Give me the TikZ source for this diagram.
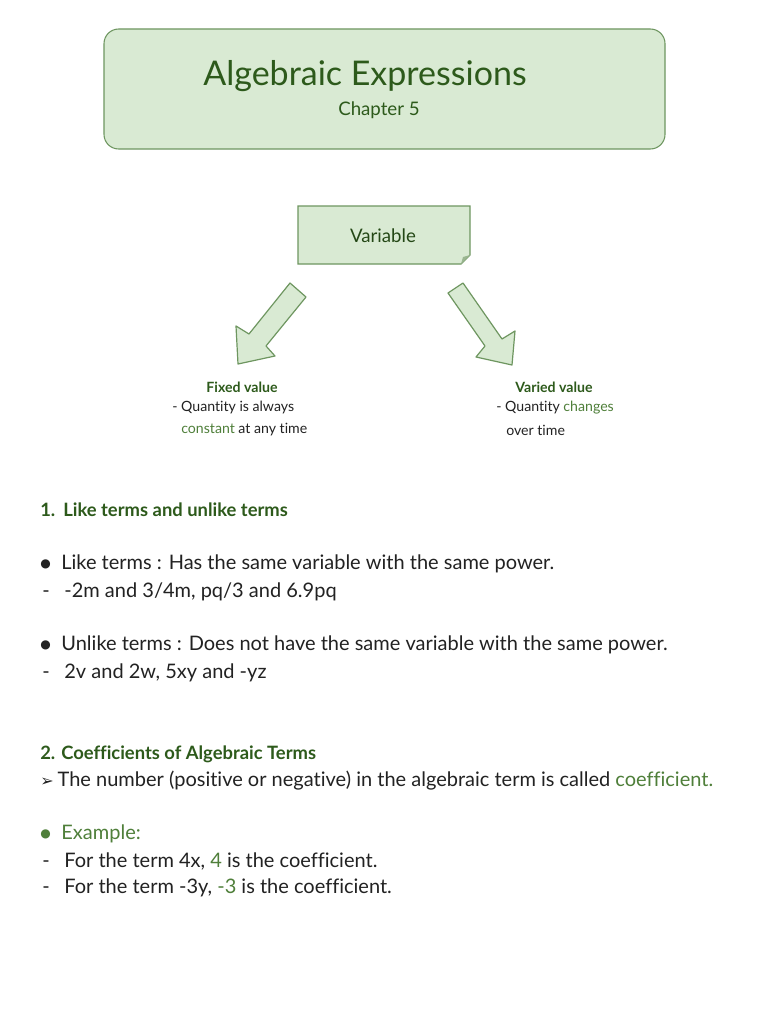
\documentclass[tikz,border=0pt]{standalone}
\usepackage{fontspec}
\setmainfont[Ligatures=CommonOff]{Lato}
\newfontfamily\symf{DejaVu Sans}
\definecolor{boxfill}{HTML}{D9EAD3}
\definecolor{boxline}{HTML}{6E9660}
\definecolor{dkgreen}{HTML}{2D5A1B}
\definecolor{ltgreen}{HTML}{4F7F3A}
\definecolor{txt}{HTML}{222222}
\newcommand{\mybul}{\raisebox{1.5pt}{\symf\fontsize{9}{12}\selectfont ●}}
\tikzset{
  body/.style={anchor=west,inner sep=0pt,text=txt,font=\fontsize{15}{17}\selectfont},
  small/.style={anchor=west,inner sep=0pt,text=txt,font=\fontsize{10.6}{12}\selectfont},
  head/.style={anchor=west,inner sep=0pt,text=dkgreen,font=\fontsize{13.8}{16}\selectfont\bfseries},
  greenbox/.style={fill=boxfill,draw=boxline,line width=0.8pt},
  bigarrow/.style={fill=boxfill,draw=boxline,line width=0.9pt,line join=round}
}
\begin{document}
\begin{tikzpicture}[x=0.75pt,y=-0.75pt]
\useasboundingbox[fill=white] (0,0) rectangle (768,1024);
% title
\draw[greenbox,rounded corners=11pt] (104,29) rectangle (665,149);
\node[inner sep=0pt,text=dkgreen,font=\fontsize{25.5}{28}\selectfont] (title) at (365,76) {Algebraic Expressions};
\node[inner sep=0pt,text=dkgreen,font=\fontsize{14}{16}\selectfont] (chap) at (379,110) {Chapter 5};
% variable note
\draw[greenbox] (298,206) -- (470,206) -- (470,255) -- (461,264) -- (298,264) -- cycle;
\fill[boxline!70] (470,255) -- (463,257) -- (461,264) -- cycle;
\node[inner sep=0pt,text=dkgreen!80!black,font=\fontsize{14}{16}\selectfont] (var) at (383,236) {Variable};
% arrows
\draw[bigarrow] (290,283) -- (306,297) -- (266,346) -- (275,356) -- (238,364) -- (236,326) -- (249,334) -- cycle;
\draw[bigarrow] (463,283) -- (448,293) -- (485,346) -- (476,357) -- (512,365) -- (515,331) -- (502,339) -- cycle;
% fixed / varied
\node[inner sep=0pt,text=dkgreen,font=\fontsize{10.6}{12}\selectfont\bfseries] (fixed) at (242,387) {Fixed value};
\node[small] (f1) at (172,408) {- Quantity is always};
\node[small] (f2) at (181,430) {\textcolor{ltgreen}{constant} at any time};
\node[inner sep=0pt,text=dkgreen,font=\fontsize{10.6}{12}\selectfont\bfseries] (varied) at (554,387) {Varied value};
\node[small] (v1) at (496,408) {- Quantity \textcolor{ltgreen}{changes}};
\node[small] (v2) at (506,430) {over time};
% section 1
\node[head] (h1) at (40,510) {1.\hspace{6pt}Like terms and unlike terms};
\node[body] (b1) at (40,564) {\mybul\hspace{8pt}Like terms : Has the same variable with the same power.};
\node[body] (d1) at (42,592) {-\hspace{11pt}-2m and 3/4m, pq/3 and 6.9pq};
\node[body] (b2) at (40,645) {\mybul\hspace{8pt}Unlike terms : Does not have the same variable with the same power.};
\node[body] (d2) at (42,673) {-\hspace{11pt}2v and 2w, 5xy and -yz};
% section 2
\node[head] (h2) at (40,754) {2. Coefficients of Algebraic Terms};
\node[body] (b3) at (40,781) {{\symf\fontsize{12}{12}\selectfont ➢}\hspace{3pt}The number (positive or negative) in the algebraic term is called \textcolor{ltgreen}{coefficient.}};
\node[body] (b4) at (40,834) {\textcolor{ltgreen}{\mybul}\hspace{8pt}\textcolor{ltgreen}{Example:}};
\node[body] (d3) at (42,861) {-\hspace{11pt}For the term 4x, \textcolor{ltgreen}{4} is the coefficient.};
\node[body] (d4) at (42,888) {-\hspace{11pt}For the term -3y, \textcolor{ltgreen}{-3} is the coefficient.};
\end{tikzpicture}
\end{document}
